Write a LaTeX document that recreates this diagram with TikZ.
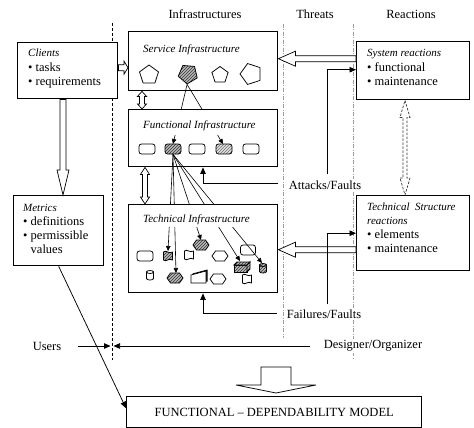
\documentclass[tikz,border=0pt]{standalone}
\usepackage{fontspec}
\setmainfont{Liberation Serif}
\usetikzlibrary{arrows.meta,shapes.geometric,calc,patterns}

\newcommand\hollowarrow[6][]{%
  \path[draw, fill=white, line width=0.7pt, #1]
    let \p1=(#2), \p2=(#3),
        \n1={atan2(\y2-\y1,\x2-\x1)},
        \n2={veclen(\x2-\x1,\y2-\y1)}
    in [shift={(\p1)}, rotate=\n1]
    (0pt,#4pt) -- ({\n2*1pt-#6pt},#4pt) -- ({\n2*1pt-#6pt},#5pt) -- ({\n2*1pt},0pt)
    -- ({\n2*1pt-#6pt},-#5pt) -- ({\n2*1pt-#6pt},-#4pt) -- (0pt,-#4pt) -- cycle;}

\newcommand\hollowdarrow[6][]{%
  \path[draw, fill=white, line width=0.7pt, #1]
    let \p1=(#2), \p2=(#3),
        \n1={atan2(\y2-\y1,\x2-\x1)},
        \n2={veclen(\x2-\x1,\y2-\y1)}
    in [shift={(\p1)}, rotate=\n1]
    (0pt,0pt) -- (#6pt,#5pt) -- (#6pt,#4pt) -- ({\n2*1pt-#6pt},#4pt) -- ({\n2*1pt-#6pt},#5pt)
    -- ({\n2*1pt},0pt) -- ({\n2*1pt-#6pt},-#5pt) -- ({\n2*1pt-#6pt},-#4pt) -- (#6pt,-#4pt)
    -- (#6pt,-#5pt) -- cycle;}

\tikzset{
  pics/hexa/.style={code={\path[#1] (-8,0) -- (-4.5,-5) -- (4.5,-5) -- (8,0) -- (4.5,5) -- (-4.5,5) -- cycle;}},
  pics/tape/.style={code={\path[#1] (-4.5,-4) .. controls (-2,-6.5) and (1,-1.5) .. (4.5,-4) -- (4.5,4) .. controls (1,1.5) and (-2,6.5) .. (-4.5,4) -- cycle;}},
  pics/boxd/.style={code={\path[#1] (-8,-2) -- (5,-2) -- (5,5) -- (-8,5) -- cycle;
      \path[#1] (-8,-2) -- (-5,-5) -- (8,-5) -- (5,-2) -- cycle;
      \path[#1] (5,-2) -- (8,-5) -- (8,2) -- (5,5) -- cycle;}},
  pics/cyl/.style={code={\path[#1] (-3.5,-3) -- (-3.5,3.5) .. controls (-3.5,5.5) and (3.5,5.5) .. (3.5,3.5) -- (3.5,-3) -- cycle;
      \path[#1] (0,-3) ellipse [x radius=3.5pt, y radius=1.5pt];}},
  pics/manin/.style={code={\fill[black] (-6.5,-3.5) -- (8.5,-7.5) -- (8.5,4.5) -- (-6.5,4.5) -- cycle;
      \path[draw, fill=white, line width=0.7pt] (-8,-2) -- (7,-6) -- (7,6) -- (-8,6) -- cycle;}},
}

\begin{document}
\begin{tikzpicture}[x=1pt,y=-1pt,
  box/.style={draw, fill=white, line width=1.4pt, inner sep=0pt, anchor=north west},
  txt/.style={font=\fontsize{12.5}{14}\selectfont, inner sep=0pt, anchor=base west},
  ttl/.style={font=\fontsize{11}{12}\selectfont\itshape, inner sep=0pt, anchor=base west},
  hdr/.style={font=\fontsize{12.5}{14}\selectfont, inner sep=0pt, anchor=base},
  lbl/.style={font=\fontsize{12.5}{14}\selectfont, fill=white, inner sep=2pt},
  conn/.style={line width=0.75pt, -{Triangle[length=6.5pt,width=5.5pt]}},
  conns/.style={line width=0.6pt, -{Triangle[length=5pt,width=4.5pt]}},
  thinl/.style={line width=0.6pt},
  wht/.style={draw, fill=white, line width=0.75pt},
  shd/.style={draw, line width=0.75pt, preaction={fill=gray!55}, pattern=north east lines, pattern color=black!80},
  shdl/.style={draw, line width=0.75pt, preaction={fill=gray!25}, pattern=north east lines, pattern color=black!55},
  pent/.style={regular polygon, regular polygon sides=5, inner sep=0pt},
  rr/.style={rectangle, rounded corners=2.5pt, minimum width=16pt, minimum height=10pt, inner sep=0pt},
  dashblack/.style={line width=0.6pt, dash pattern=on 3pt off 2pt},
  dashgrey/.style={line width=0.6pt, draw=gray!75, dash pattern=on 4pt off 1.5pt on 1pt off 1.5pt},
]
\useasboundingbox (0,0) rectangle (474,428);

% headers
\node[hdr] (hInf) at (205,18.5) {Infrastructures};
\node[hdr] (hThr) at (315,18.5) {Threats};
\node[hdr] (hRea) at (411,18.5) {Reactions};

% separators
\coordinate (d1a) at (112,23);  \coordinate (d1b) at (112,360);
\coordinate (d2a) at (283,24);  \coordinate (d2b) at (283,338);
\coordinate (d3a) at (353,24);  \coordinate (d3b) at (353,360);
\draw[dashblack] (d1a) -- (d1b);
\draw[dashgrey] (d2a) -- (d2b);
\draw[dashgrey] (d3a) -- (d3b);

% helper coordinates
\coordinate (hA) at (130,135); \coordinate (hB) at (270,135);
\coordinate (hC) at (130,227); \coordinate (hD) at (270,227);
\coordinate (f2t) at (173,144); \coordinate (f4t) at (223,144);
\coordinate (tg1) at (168,251); \coordinate (tg2) at (176,273);
\coordinate (tg3) at (201,240); \coordinate (tg4) at (240,261);
\coordinate (tg5) at (262,263);

% Clients
\node[box, minimum width=100pt, minimum height=56pt] (clients) at (17,42) {};
\node[ttl] (cl1) at (28,57) {Clients};
\node[txt] (cl2) at (28,71.5) {\textbullet\ tasks};
\node[txt] (cl3) at (28,85.5) {\textbullet\ requirements};

% Service infrastructure
\node[box, minimum width=149pt, minimum height=59pt] (service) at (128,31) {};
\node[ttl] (svT) at (143,52.5) {Service Infrastructure};
\node[pent, wht, minimum size=20pt] (p1) at (149,75) {};
\node[pent, shd, minimum size=20pt, rotate=175] (p2) at (188,74) {};
\node[pent, wht, minimum size=17pt] (p3) at (220,75) {};
\node[pent, wht, minimum size=22pt, rotate=18] (p4) at (251,74) {};
\coordinate (p2b) at (p2.corner 1);
\draw[thinl] (p2b) -- (f2t);
\draw[thinl] (p2b) -- (f4t);

% Functional infrastructure
\node[box, minimum width=149pt, minimum height=57pt] (functional) at (128,109) {};
\node[ttl] (fuT) at (143,128.5) {Functional Infrastructure};
\node[rr, wht] (f1) at (147,149) {};
\node[rr, shd] (f2) at (173,149) {};
\node[rr, wht] (f3) at (197,149) {};
\node[rr, shdl] (f4) at (224,149) {};
\node[rr, wht] (f5) at (251,149) {};
\draw[conns] (intersection of p2b--f2t and hA--hB) -- (f2t);
\draw[conns] (intersection of p2b--f4t and hA--hB) -- (f4t);
\coordinate (f2s) at (f2.south);
\draw[thinl] (f2s) -- (tg1);
\draw[thinl] (f2s) -- (tg2);
\draw[thinl] (f2s) -- (tg3);
\draw[thinl] (f2s) -- (tg4);
\draw[thinl] (f2s) -- (tg5);

% Technical infrastructure
\node[box, minimum width=149pt, minimum height=88pt] (technical) at (128,204) {};
\node[ttl] (tiT) at (143,222.5) {Technical Infrastructure};
\node[rr, wht] (t1) at (145,256) {};
\pic at (168,256) {tape=shd};
\pic at (189,255) {tape=wht};
\pic at (201,245) {hexa=shd};
\pic at (220,256) {hexa=wht};
\node[rr, wht, minimum width=15pt] (t6) at (248,250) {};
\pic at (242,267) {boxd=shd};
\pic at (263,268) {cyl=shd};
\pic at (150,275) {cyl=wht};
\pic at (175,278) {hexa=shd};
\pic at (199,277) {manin};
\pic at (218,279) {hexa=wht};
\pic at (247,279) {tape=wht};
\draw[conns] (intersection of f2s--tg1 and hC--hD) -- (tg1);
\draw[conns] (intersection of f2s--tg2 and hC--hD) -- (tg2);
\draw[conns] (intersection of f2s--tg3 and hC--hD) -- (tg3);
\draw[conns] (intersection of f2s--tg4 and hC--hD) -- (tg4);
\draw[conns] (intersection of f2s--tg5 and hC--hD) -- (tg5);

% System reactions
\node[box, minimum width=113pt, minimum height=58pt] (sysreact) at (356,41) {};
\node[ttl] (sr1) at (367,57) {System reactions};
\node[txt] (sr2) at (367,71.5) {\textbullet\ functional};
\node[txt] (sr3) at (367,85.5) {\textbullet\ maintenance};

% Technical structure reactions
\node[box, minimum width=113pt, minimum height=75pt] (techreact) at (356,195) {};
\node[ttl] (tr1) at (367,210.5) {Technical\enspace Structure};
\node[ttl] (tr2) at (367,224.5) {reactions};
\node[txt] (tr3) at (367,238.5) {\textbullet\ elements};
\node[txt] (tr4) at (367,252.5) {\textbullet\ maintenance};

% Metrics
\node[box, minimum width=90pt, minimum height=70pt] (metrics) at (13,195) {};
\node[ttl] (me1) at (23,211) {Metrics};
\node[txt] (me2) at (23,225) {\textbullet\ definitions};
\node[txt] (me3) at (23,239.5) {\textbullet\ permissible};
\node[txt] (me4) at (23,253) {\phantom{\textbullet\ }values};

% Model
\node[box, minimum width=295pt, minimum height=31pt, font=\fontsize{12.5}{14}\selectfont] (model) at (126,396) {FUNCTIONAL -- DEPENDABILITY MODEL};

% hollow arrows
\coordinate (ha1) at ($(clients.east)+(0,-3)$);
\hollowarrow{ha1}{ha1 -| service.west}{3}{6.5}{4}
\coordinate (ha2) at ($(sysreact.west)+(0,-12)$);
\hollowarrow{ha2}{ha2 -| service.east}{3}{7.5}{17}
\coordinate (ha3) at ($(techreact.west)+(0,16.5)$);
\hollowarrow{ha3}{ha3 -| technical.east}{3}{7.5}{17}
\coordinate (ha4) at ($(clients.south west)+(46,0)$);
\hollowarrow{ha4}{ha4 |- metrics.north}{3}{6}{25}
\coordinate (ha5) at ($(service.south west)+(14,0)$);
\hollowdarrow{ha5}{ha5 |- functional.north}{2.5}{4.5}{5}
\coordinate (ha6) at ($(functional.south west)+(17,0)$);
\hollowdarrow{ha6}{ha6 |- technical.north}{2.5}{4.5}{7}
\coordinate (ha7) at ($(sysreact.south west)+(49,0)$);
\hollowdarrow[draw=gray!45!black, dash pattern=on 2.5pt off 1.5pt]{ha7}{ha7 |- techreact.north}{2}{5}{17}
\coordinate (ha8) at (276,367);
\hollowarrow{ha8}{$(ha8 |- model.north)+(0,-3)$}{15}{40}{8}

% labels and connectors
\node[lbl] (attacks) at (325,185) {Attacks/Faults};
\node[lbl] (failures) at (324,314) {Failures/Faults};
\node[lbl] (users) at (47,346) {Users};
\node[lbl] (designer) at (373,346) {Designer/Organizer};

\coordinate (fa) at ($(functional.south west)+(75,0)$);
\draw[conn] ($(attacks.west)+(-9,-2)$) -| (fa);
\draw[conn] ($(attacks.north)+(2,-4)$) |- ($(sysreact.west)+(0,-1)$);
\coordinate (ta) at ($(technical.south west)+(75,0)$);
\draw[conn] ($(failures.west)+(-8,-1)$) -| (ta);
\draw[conn] ($(failures.north)+(3,-3)$) |- (techreact.west);
\draw[conn] ($(users.east)+(15,0)$) -- ($(users.east -| d1a)+(-1.5,0)$);
\draw[conn] ($(designer.west)+(-12,0)$) -- ($(designer.west -| d1a)+(1.5,0)$);
\draw[conn] (metrics.south) -- ($(model.west)+(0,-4)$);
\end{tikzpicture}
\end{document}
